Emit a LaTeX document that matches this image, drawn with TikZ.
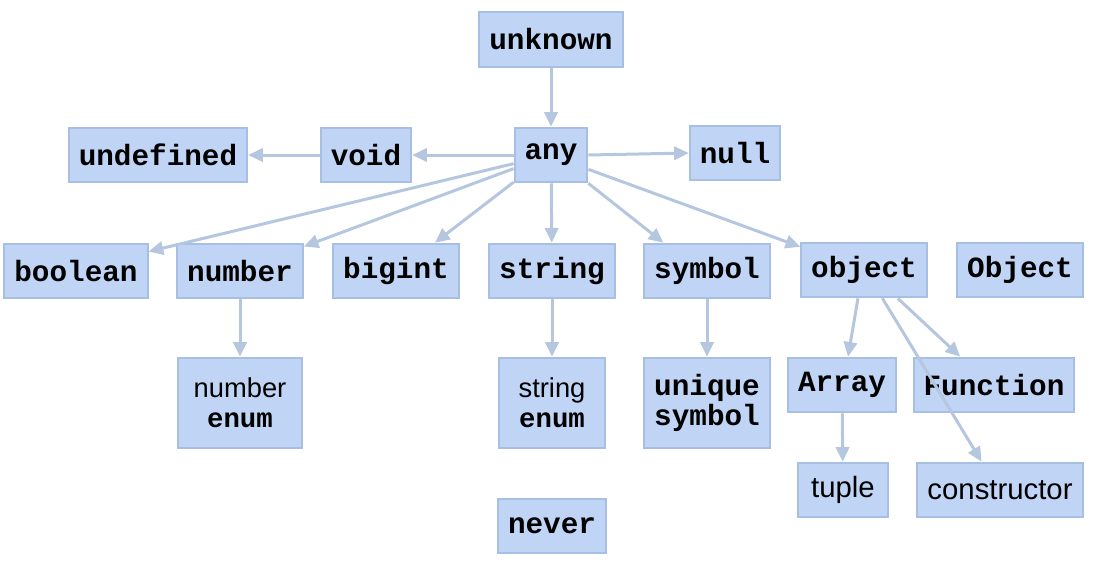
\documentclass[tikz,border=0pt]{standalone}
\usepackage{fontspec}
\setmainfont{Liberation Sans}
\setmonofont{Liberation Mono}
\usetikzlibrary{arrows.meta}
\definecolor{boxfill}{HTML}{C0D5F5}
\definecolor{boxline}{HTML}{A6BFE2}
\definecolor{edgeline}{HTML}{B5C6DF}

\begin{document}
\begin{tikzpicture}[
  x=0.75pt, y=-0.75pt,
  every node/.style={
    fill=boxfill,
    draw=boxline,
    line width=1.5pt,
    text=black,
    inner xsep=7.5pt,
    inner ysep=0pt,
    minimum height=41pt,
    font=\fontsize{22}{22.5}\selectfont\ttfamily\bfseries,
    align=center
  },
  tall/.style={minimum height=68pt},
  sans/.style={font=\fontsize{#1}{22.5}\selectfont\rmfamily},
  edge/.style={draw=edgeline, line width=2.25pt, -{Triangle[length=11pt,width=10pt]}},
]
\useasboundingbox (0,0) rectangle (1095,565);

\node (unknown) at (551,39.5) {unknown};
\node (any) at (551,155) {any};
\node (void) at (366,155) {void};
\node (undefined) at (158,155) {undefined};
\node (null) at (735,153) {null};
\node (boolean) at (76,271) {boolean};
\node (number) at (240,271) {number};
\node (bigint) at (396,271) {bigint};
\node (string) at (552,271) {string};
\node (symbol) at (707,271) {symbol};
\node (object) at (864,270) {object};
\node (Object) at (1020,270) {Object};
\node[tall, sans=20.5, minimum width=93pt] (numenum) at (240,403) {number\\{\ttfamily\bfseries enum}};
\node[tall, sans=20.5, minimum width=79.5pt] (strenum) at (552,403) {string\\{\ttfamily\bfseries enum}};
\node[tall] (unisym) at (707,403) {unique\\symbol};
\node (array) at (842,385) {Array};
\node (function) at (994,385) {Function};
\node[sans=22, minimum width=67.5pt] (tuple) at (843,490) {tuple};
\node[sans=22] (ctor) at (1000,490) {constructor};
\node (never) at (552,526) {never};

\draw[edge] (unknown) -- (any);
\draw[edge] (any) -- (void);
\draw[edge] (void) -- (undefined);
\draw[edge] (any.east) -- (null.west);
\draw[edge] (any.193) -- (boolean.15);
\draw[edge] (any.200) -- (number.21);
\draw[edge] (any.216) -- (bigint.36);
\draw[edge] (any) -- (string);
\draw[edge] (any.south east) -- (symbol.147);
\draw[edge] (any.339) -- (object.160);
\draw[edge] (number) -- (numenum);
\draw[edge] (string) -- (strenum);
\draw[edge] (symbol) -- (unisym);
\draw[edge] (object.258) -- (array.78);
\draw[edge] (object.320) -- (function.140);
\draw[edge] (object.303) -- (ctor.123);
\draw[edge] (array) -- (tuple);

\end{tikzpicture}
\end{document}
